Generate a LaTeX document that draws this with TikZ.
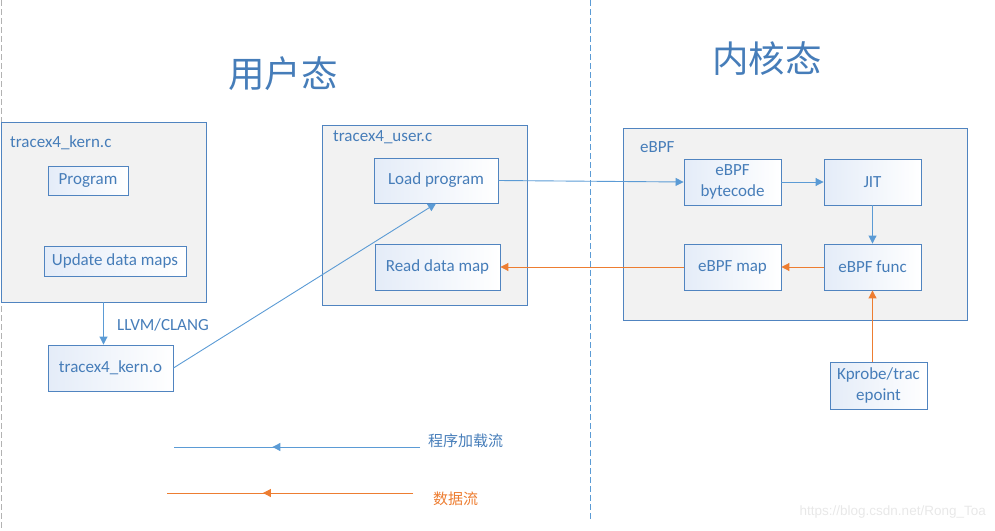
\documentclass[tikz,border=0pt]{standalone}
\usepackage{fontspec}
\setmainfont{Carlito}
\newfontfamily\cjk{Noto Sans CJK SC}
\newfontfamily\wmfont{Liberation Sans}
\usepackage{tikz}
\usetikzlibrary{calc,positioning,arrows.meta}

\definecolor{txtblue}{RGB}{70,125,185}
\definecolor{edgeblue}{RGB}{80,132,192}
\definecolor{flowblue}{RGB}{91,155,213}
\definecolor{floworange}{RGB}{237,125,49}
\definecolor{shadeblue}{RGB}{228,236,248}

\begin{document}
\begin{tikzpicture}[
      x=1pt, y=-1pt,
      every node/.style={font=\fontsize{17}{21}\selectfont, text=txtblue},
      area/.style={draw=edgeblue, line width=0.9pt, fill=gray!10, inner sep=0pt},
      block/.style={draw=edgeblue, line width=0.9pt, inner sep=0pt, align=center,
                    left color=shadeblue, right color=white},
      arealabel/.style={anchor=west, inner sep=0pt},
      loadflow/.style={draw=flowblue, line width=0.9pt, -{Triangle[length=8pt,width=8pt]}},
      dataflow/.style={draw=floworange, line width=1pt, -{Triangle[length=8pt,width=8pt]}}]
    \useasboundingbox (0,0) rectangle (995,530);

    % separators
    \draw[gray!60, line width=1pt, dash pattern=on 6pt off 3pt] (1,0) -- (1,530);
    \draw[flowblue, line width=1pt, dash pattern=on 6pt off 3pt] (590,0) -- (590,520);

    \node[font=\cjk\fontsize{36.5}{42}\selectfont] (user) at (283,74) {用户态};
    \node[font=\cjk\fontsize{36.5}{42}\selectfont] (kernel) at (767,59) {内核态};

    % containers
    \node[area, minimum width=205pt, minimum height=180pt] (kernsrc) at (103.5,212) {};
    \node[arealabel] at (10,143) {tracex4\_kern.c};
    \node[area, minimum width=205pt, minimum height=180pt] (usersrc) at (424.5,215) {};
    \node[arealabel] at (333,137) {tracex4\_user.c};
    \node[area, minimum width=344pt, minimum height=192pt] (ebpf) at (795,224) {};
    \node[arealabel] at (640,147) {eBPF};

    % blocks
    \node[block, minimum width=80pt, minimum height=29pt] (prog) at (88,180.5) {Program};
    \node[block, minimum width=142pt, minimum height=30pt] (update) at (115,261) {Update data maps};
    \node[block, minimum width=125pt, minimum height=46pt] (kobj) at (110.5,368) {tracex4\_kern.o};
    \node[block, minimum width=124pt, minimum height=45pt] (load) at (436,180.5) {Load program};
    \node[block, minimum width=125pt, minimum height=46pt] (readmap) at (437.5,267) {Read data map};
    \node[block, minimum width=97pt, minimum height=46pt] (bytecode) at (732.5,182) {eBPF\\bytecode};
    \node[block, minimum width=97pt, minimum height=46pt] (jit) at (872.5,182) {JIT};
    \node[block, minimum width=97pt, minimum height=46pt] (map) at (732.5,267) {eBPF map};
    \node[block, minimum width=97pt, minimum height=46pt] (func) at (872.5,267) {eBPF func};
    \node[block, minimum width=97pt, minimum height=47pt] (kprobe) at (878.5,385.5) {Kprobe/trac\\epoint};

    % program loading
    \draw[loadflow] (kernsrc.south) -- (kernsrc.south |- kobj.north);
    \node[arealabel] (llvm) at (117,325) {LLVM/CLANG};
    \draw[loadflow] (kobj.east) -- (load.south);
    \draw[loadflow] (load.east) -- (bytecode.west);
    \draw[loadflow] (bytecode.east) -- (jit.west);
    \draw[loadflow] (jit.south) -- (func.north);

    % data
    \draw[dataflow] (func.south |- kprobe.north) -- (func.south);
    \draw[dataflow] (func.west) -- (map.east);
    \draw[dataflow] (map.west) -- (readmap.east);

    % legend
    \coordinate (lb1) at (420,447);
    \coordinate (lb2) at (174,447);
    \draw[flowblue, line width=1pt] (lb1) -- (lb2);
    \draw[loadflow] (lb1) -- ($(lb1)!0.6!(lb2)$);
    \node[arealabel, font=\cjk\fontsize{15}{17}\selectfont] (loadlabel) at (428,441) {程序加载流};
    \coordinate (lo1) at (413,493);
    \coordinate (lo2) at (167,493);
    \draw[floworange, line width=1pt] (lo1) -- (lo2);
    \draw[dataflow] (lo1) -- ($(lo1)!0.61!(lo2)$);
    \node[arealabel, font=\cjk\fontsize{15}{17}\selectfont, text=floworange] (datalabel) at (433,499) {数据流};

    \node[anchor=east, inner sep=0pt, font=\wmfont\fontsize{13.5}{16}\selectfont, text=gray!18] (mark) at (986,512) {https://blog.csdn.net/Rong\_Toa};
  \end{tikzpicture}
\end{document}
